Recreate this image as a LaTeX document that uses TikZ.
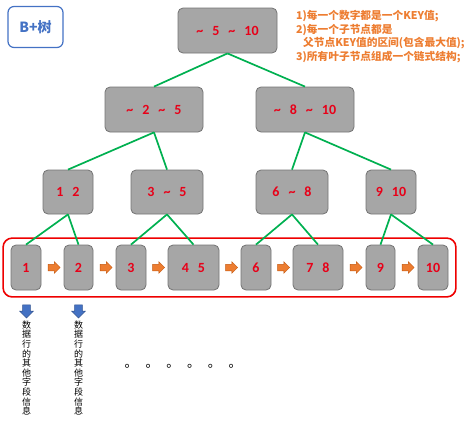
\documentclass[tikz,border=0pt]{standalone}
\usepackage{fontspec}
\setmainfont{Carlito}
\newfontfamily\cjk{Noto Sans CJK SC}
\usetikzlibrary{shapes.arrows,positioning,fit}

\definecolor{keygray}{RGB}{166,166,166}
\definecolor{keyborder}{RGB}{115,115,115}
\definecolor{keyred}{RGB}{232,0,24}
\definecolor{treegreen}{RGB}{0,176,80}
\definecolor{framered}{RGB}{238,0,0}
\definecolor{noteorange}{RGB}{237,125,49}
\definecolor{arroworange}{RGB}{196,89,17}
\definecolor{titleblue}{RGB}{68,114,196}
\definecolor{blueborder}{RGB}{47,82,143}

\newcommand{\ti}{\textasciitilde}
\newcommand{\kgap}{\hspace{9pt}}

\begin{document}
\begin{tikzpicture}[
        x=1pt, y=-1pt,
        keybox/.style={draw=keyborder, fill=keygray, line width=0.8pt,
            rounded corners=5pt, inner sep=0pt, minimum height=45pt,
            text=keyred, font=\fontsize{14}{16}\selectfont\bfseries},
        tree edge/.style={draw=treegreen, line width=1.7pt},
        next arrow/.style={single arrow, draw=arroworange, fill=noteorange,
            line width=0.5pt, inner sep=3pt, minimum height=12pt,
            single arrow head extend=2.6pt},
        down arrow/.style={single arrow, shape border rotate=270,
            draw=blueborder, fill=titleblue, line width=0.5pt,
            inner sep=3.6pt, minimum height=13pt, single arrow head extend=3pt},
        info text/.style={align=center, inner sep=0pt,
            font=\cjk\fontsize{9}{9.6}\selectfont},
        ]
        \useasboundingbox (0,0) rectangle (474,421);

        % title and notes
        \node (title) [draw=titleblue, line width=1.2pt, rounded corners=6pt,
            minimum width=55pt, minimum height=41pt, text=titleblue,
            font=\cjk\fontsize{14}{16}\selectfont\bfseries] at (35.5,27) {B+树};
        \node (note) [anchor=north west, align=left, inner sep=0pt, text=noteorange,
            font=\cjk\fontsize{10.7}{13.7}\selectfont\bfseries] at (296,10)
            {1)每一个数字都是一个KEY值;\\
             2)每一个子节点都是\\
             \hspace*{7pt}父节点KEY值的区间(包含最大值);\\
             3)所有叶子节点组成一个链式结构;};

        % index levels
        \node (root) [keybox, minimum width=99pt] at (227.5,30.5) {\ti\kgap 5\kgap\ti\kgap 10};
        \node (midl) [keybox, minimum width=98pt] at (154,109.5) {\ti\kgap 2\kgap\ti\kgap 5};
        \node (midr) [keybox, minimum width=98pt] at (305,109.5) {\ti\kgap 8\kgap\ti\kgap 10};
        \node (k12)  [keybox, minimum width=50pt, minimum height=44pt] at (68,192) {1\kgap 2};
        \node (k35)  [keybox, minimum width=72pt, minimum height=44pt] at (167,192) {3\kgap\ti\kgap 5};
        \node (k68)  [keybox, minimum width=72pt, minimum height=44pt] at (292,192) {6\kgap\ti\kgap 8};
        \node (k910) [keybox, minimum width=50pt, minimum height=44pt] at (391,192) {9\kgap 10};

        % leaf level
        \node (l1)  [keybox, minimum width=30pt] at (26,267.5) {1};
        \node (l2)  [keybox, minimum width=29pt] at (78.5,267.5) {2};
        \node (l3)  [keybox, minimum width=30pt] at (131,267.5) {3};
        \node (l45) [keybox, minimum width=51pt] at (193.5,267.5) {4\kgap 5};
        \node (l6)  [keybox, minimum width=30pt] at (256,267.5) {6};
        \node (l78) [keybox, minimum width=50pt] at (318,267.5) {7\kgap 8};
        \node (l9)  [keybox, minimum width=29pt] at (380.5,267.5) {9};
        \node (l10) [keybox, minimum width=30pt] at (433,267.5) {10};
        \node (chain) [draw=framered, line width=1.6pt, rounded corners=9pt,
            inner xsep=7.5pt, inner ysep=6.5pt, fit=(l1)(l10)] {};

        % paths from parent keys to child keys
        \path[tree edge]
        (root.south)    edge    (midl.north)
        (root.south)    edge    (midr.north)
        (midl.south)    edge    (k12.north)
        (midl.south)    edge    (k35.north)
        (midr.south)    edge    (k68.north)
        (midr.south)    edge    (k910.north)
        (k12.south)     edge    (l1.north)
        (k12.south)     edge    (l2.north)
        (k35.south)     edge    (l3.north)
        (k35.south)     edge    (l45.north)
        (k68.south)     edge    (l6.north)
        (k68.south)     edge    (l78.north)
        (k910.south)    edge    (l9.north)
        (k910.south)    edge    (l10.north)
        ;

        % links between leaves
        \foreach \from/\to in {l1/l2, l2/l3, l3/l45, l45/l6, l6/l78, l78/l9, l9/l10}
            \path (\from.east) -- node [next arrow] {} (\to.west);

        % row data below the first leaves
        \node (down1) [down arrow] at (26.5,309.5) {};
        \node (down2) [down arrow] at (78.5,309.5) {};
        \node (info1) [info text, anchor=north] at (26.5,320.5) {数\\据\\行\\的\\其\\他\\字\\段\\信\\息};
        \node (info2) [info text, anchor=north] at (78.5,320.5) {数\\据\\行\\的\\其\\他\\字\\段\\信\\息};
        \foreach \i in {0,...,5}
            \node (dot\i) [anchor=base west, inner sep=0pt,
                font=\cjk\fontsize{13}{13}\selectfont] at (124.5+20.8*\i,367) {。};
    \end{tikzpicture}
\end{document}
